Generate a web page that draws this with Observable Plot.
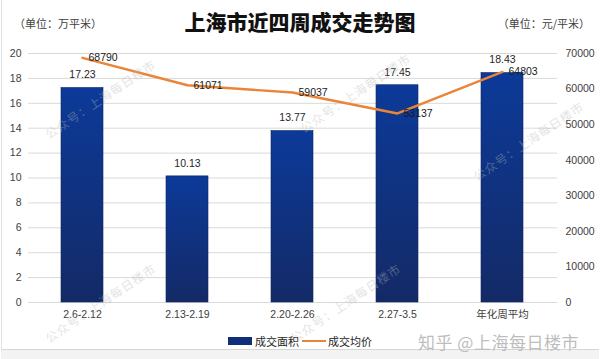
<!DOCTYPE html>
<html><head><meta charset="utf-8">
<script src="https://cdn.jsdelivr.net/npm/d3@7"></script>
<script src="https://cdn.jsdelivr.net/npm/@observablehq/plot@0.6"></script>
<style>
body{margin:0;background:#fff;}
#wrap{position:relative;width:600px;height:359px;overflow:hidden;background:#fff;font-family:"Noto Sans CJK SC",sans-serif;}
.abs{position:absolute;white-space:nowrap;}
.wm{position:absolute;white-space:nowrap;color:#b8b8b8;opacity:.38;font-size:12px;letter-spacing:1px;transform-origin:center;}
</style></head>
<body><div id="wrap">
<div class="abs" style="left:1px;top:349px;width:598px;height:10px;background:#f3f3f3;border-top:1px solid #d6d6d6"></div>
<div class="abs" style="left:1px;top:0;width:1px;height:350px;background:#e2e2e2"></div>
<div class="abs" style="left:14px;top:15px;font-size:11px;color:#404040" id="unitL"></div>
<div class="abs" style="left:0;width:600px;top:6px;text-align:center;font-size:21px;font-weight:900;color:#111" id="title"></div>
<div class="abs" style="right:10px;top:15px;font-size:11px;color:#404040" id="unitR"></div>
<div class="abs" id="chart" style="left:0;top:44px"></div>
<div class="abs" id="legend" style="left:228px;top:333px;font-size:11px;color:#262626;display:flex;align-items:center;height:16px"></div>
<div class="abs" style="left:418px;top:329px;font-size:17px;color:#bdbdbd;letter-spacing:0.5px" id="zhihu"></div>
</div>
<script>
const categories = ["2.6-2.12", "2.13-2.19", "2.20-2.26", "2.27-3.5", "年化周平均"];
const areaValues = [17.23, 10.13, 13.77, 17.45, 18.43];
const priceValues = [68790, 61071, 59037, 53137, 64803];
const leftTicks = [0, 2, 4, 6, 8, 10, 12, 14, 16, 18, 20];
const rightTicks = [0, 10000, 20000, 30000, 40000, 50000, 60000, 70000];
const titleText = "上海市近四周成交走势图";
const unitLeft = "（单位：万平米）";
const unitRight = "（单位：元/平米）";
const seriesNames = ["成交面积", "成交均价"];
const watermarkText = "公众号：上海每日楼市";
const zhihuText = "知乎 @上海每日楼市";

document.getElementById("title").textContent = titleText;
document.getElementById("unitL").textContent = unitLeft;
document.getElementById("unitR").textContent = unitRight;
document.getElementById("zhihu").textContent = zhihuText;

const ratio = 70000 / 20; // right axis max / left axis max
const data = categories.map((c, i) => ({cat: c, area: areaValues[i], price: priceValues[i], p: priceValues[i] / ratio}));

const defs = () => {
  const d = d3.create("svg:defs");
  const g = d.append("linearGradient").attr("id", "barGrad").attr("x1", 0).attr("y1", 0).attr("x2", 0).attr("y2", 1);
  g.append("stop").attr("offset", "0%").attr("stop-color", "#0c3a99");
  g.append("stop").attr("offset", "100%").attr("stop-color", "#142a66");
  return d.node();
};

const numFont = "'Liberation Sans','Noto Sans CJK SC',sans-serif";
const chart = Plot.plot({
  width: 600,
  height: 290,
  marginTop: 9,
  marginBottom: 32,
  marginLeft: 28,
  marginRight: 43,
  style: {fontFamily: numFont, fontSize: "10.5px", color: "#404040", background: "transparent"},
  x: {type: "band", domain: categories, paddingInner: 0.6, paddingOuter: 0.3, label: null},
  y: {domain: [0, 20], label: null},
  marks: [
    defs,
    Plot.gridY(leftTicks, {stroke: "#d9d9d9", strokeOpacity: 1}),
    Plot.axisY({anchor: "left", ticks: leftTicks, tickSize: 0, tickPadding: 7, label: null}),
    Plot.axisY({anchor: "right", ticks: rightTicks.map(v => v / ratio), tickFormat: d => String(Math.round(d * ratio)), tickSize: 0, tickPadding: 8, label: null, textAnchor: "start"}),
    Plot.axisX({tickSize: 0, tickPadding: 8, label: null}),
    Plot.barY(data, {x: "cat", y: "area", fill: "url(#barGrad)", stroke: "#0e275f", strokeWidth: 0.6}),
    Plot.text(data, {x: "cat", y: "area", text: d => d.area.toFixed(2), dy: -13, fill: "#262626"}),
    Plot.line(data, {x: "cat", y: "p", stroke: "#ea8538", strokeWidth: 2.4, strokeLinejoin: "round", strokeLinecap: "round"}),
    Plot.text(data, {x: "cat", y: "p", text: d => String(d.price), textAnchor: "start", dx: 6, fill: "#1a1a1a"})
  ]
});
document.getElementById("chart").appendChild(chart);

// legend
const lg = document.getElementById("legend");
lg.innerHTML = `<span style="display:inline-block;width:24px;height:8px;background:#102f7a;margin-right:3px"></span><span>${seriesNames[0]}</span>
<span style="display:inline-block;width:24px;height:2.5px;background:#ea8538;margin:0 2px 0 3px"></span><span>${seriesNames[1]}</span>`;

// faint diagonal watermarks (kept fully inside the picture)
const wmPos = [[100, 98], [100, 302], [355, 92], [345, 302], [528, 140]];
const wrap = document.getElementById("wrap");
wmPos.forEach(([cx, cy]) => {
  const el = document.createElement("div");
  el.className = "wm";
  el.textContent = watermarkText;
  wrap.appendChild(el);
  const w = el.offsetWidth, h = el.offsetHeight;
  el.style.left = (cx - w / 2) + "px";
  el.style.top = (cy - h / 2) + "px";
  el.style.transform = "rotate(-34deg)";
});
</script>
</body></html>
